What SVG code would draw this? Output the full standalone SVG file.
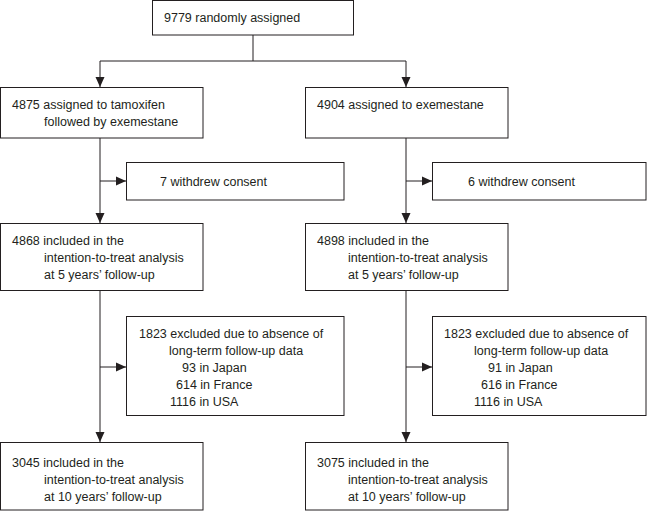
<svg xmlns="http://www.w3.org/2000/svg" width="647" height="511" viewBox="0 0 647 511">
<style>
.box{fill:#fff;stroke:#231f20;stroke-width:1}
.ln{fill:none;stroke:#231f20;stroke-width:1}
text{font-family:"Liberation Sans",Arial,sans-serif;font-size:12.5px;fill:#231f20}
</style>
<defs>
<marker id="ah" viewBox="0 0 10 10" refX="10" refY="5" markerWidth="10" markerHeight="10" markerUnits="userSpaceOnUse" orient="auto">
<path d="M0,0.5 L10,5 L0,9.5 z" fill="#231f20"/>
</marker>
</defs>
<rect width="647" height="511" fill="#fff"/>
<g id="connectors">
<path class="ln" d="M253,35 V61 M100,61 H406"/>
<path class="ln" d="M100,61 V87" marker-end="url(#ah)"/>
<path class="ln" d="M406,61 V87" marker-end="url(#ah)"/>
<path class="ln" d="M100,138 V223" marker-end="url(#ah)"/>
<path class="ln" d="M100,181 H126" marker-end="url(#ah)"/>
<path class="ln" d="M406,138 V223" marker-end="url(#ah)"/>
<path class="ln" d="M406,181 H432" marker-end="url(#ah)"/>
<path class="ln" d="M100,290 V442" marker-end="url(#ah)"/>
<path class="ln" d="M100,367 H126" marker-end="url(#ah)"/>
<path class="ln" d="M406,290 V442" marker-end="url(#ah)"/>
<path class="ln" d="M406,367 H432" marker-end="url(#ah)"/>
</g>
<g id="randomised">
<rect class="box" x="152.5" y="0.5" width="201" height="34.5"/>
<text x="164" y="22">9779 randomly assigned</text>
</g>
<g id="tamoxifen">
<rect class="box" x="0.5" y="87.5" width="202.5" height="50.5"/>
<text x="12" y="108.5">4875 assigned to tamoxifen</text>
<text x="44" y="125.5">followed by exemestane</text>
</g>
<g id="exemestane">
<rect class="box" x="305.5" y="87.5" width="202.5" height="50.5"/>
<text x="317" y="108.5">4904 assigned to exemestane</text>
</g>
<g id="withdrew-left">
<rect class="box" x="126.5" y="162.5" width="217.5" height="37.5"/>
<text x="160" y="185.5">7 withdrew consent</text>
</g>
<g id="withdrew-right">
<rect class="box" x="432.5" y="162.5" width="213.5" height="37.5"/>
<text x="468" y="185.5">6 withdrew consent</text>
</g>
<g id="itt5-left">
<rect class="box" x="0.5" y="223.5" width="202.5" height="67"/>
<text x="12" y="244.5">4868 included in the</text>
<text x="44" y="261.5">intention-to-treat analysis</text>
<text x="44" y="278.5">at 5 years’ follow-up</text>
</g>
<g id="itt5-right">
<rect class="box" x="305.5" y="223.5" width="202.5" height="67"/>
<text x="317" y="244.5">4898 included in the</text>
<text x="348" y="261.5">intention-to-treat analysis</text>
<text x="348" y="278.5">at 5 years’ follow-up</text>
</g>
<g id="excluded-left">
<rect class="box" x="126.5" y="316.5" width="217.5" height="99"/>
<text x="139" y="337.5">1823 excluded due to absence of</text>
<text x="169" y="354.5">long-term follow-up data</text>
<text x="182" y="371.5">93 in Japan</text>
<text x="176" y="388.5">614 in France</text>
<text x="170" y="405.5">1116 in USA</text>
</g>
<g id="excluded-right">
<rect class="box" x="432.5" y="316.5" width="213.5" height="99"/>
<text x="444" y="337.5">1823 excluded due to absence of</text>
<text x="474" y="354.5">long-term follow-up data</text>
<text x="488" y="371.5">91 in Japan</text>
<text x="481" y="388.5">616 in France</text>
<text x="474" y="405.5">1116 in USA</text>
</g>
<g id="itt10-left">
<rect class="box" x="0.5" y="442.5" width="202.5" height="67.5"/>
<text x="12" y="466.5">3045 included in the</text>
<text x="44" y="483.5">intention-to-treat analysis</text>
<text x="44" y="500.5">at 10 years’ follow-up</text>
</g>
<g id="itt10-right">
<rect class="box" x="305.5" y="442.5" width="202.5" height="67.5"/>
<text x="317" y="466.5">3075 included in the</text>
<text x="348" y="483.5">intention-to-treat analysis</text>
<text x="348" y="500.5">at 10 years’ follow-up</text>
</g>
</svg>
